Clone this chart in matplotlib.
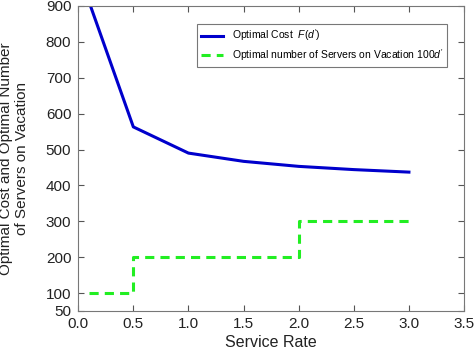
import matplotlib
matplotlib.use("Agg")
import matplotlib.pyplot as plt

# data
service_rate = [0.1, 0.5, 1.0, 1.5, 2.0, 2.5, 3.0]
optimal_cost = [910, 563, 490, 467, 453, 444, 437]
servers_on_vacation = [100, 200, 200, 200, 300, 300, 300]

x_ticks = [0.0, 0.5, 1.0, 1.5, 2.0, 2.5, 3.0, 3.5]
y_ticks = [50, 100, 200, 300, 400, 500, 600, 700, 800, 900]

plt.rcParams['font.family'] = ['Liberation Sans', 'DejaVu Sans']
plt.rcParams['mathtext.fontset'] = 'custom'
plt.rcParams['mathtext.it'] = 'Liberation Sans:italic'
plt.rcParams['mathtext.rm'] = 'Liberation Sans'

fig = plt.figure(figsize=(4.74, 3.51), dpi=100)
ax = fig.add_axes([0.165, 0.114, 0.814, 0.869])

ax.plot(service_rate, optimal_cost, color='#0000cc', lw=2.2,
        label=r"Optimal Cost  $F(d')$")
ax.step(service_rate, servers_on_vacation, where='post', color='#22ee22',
        lw=2.2, linestyle=(0, (3, 2)),
        label=r"Optimal number of Servers on Vacation $100d'$")

ax.set_xlim(0, 3.5)
ax.set_ylim(50, 900)
ax.set_xticks(x_ticks)
ax.set_yticks(y_ticks)
ax.set_xticklabels([f"{v:.1f}" for v in x_ticks])
ax.tick_params(direction='in', top=True, right=True, labelsize=11,
               color='#555555', labelcolor='#222222', length=4)
ax.tick_params(axis='x', pad=4)
ax.tick_params(axis='y', pad=5)

for s in ax.spines.values():
    s.set_color('#777777')

ax.set_xlabel('Service Rate', fontsize=11.5, labelpad=3, color='#222222')
ax.set_ylabel('Optimal Cost and Optimal Number\nof Servers on Vacation',
              fontsize=11, linespacing=1.2, labelpad=12, color='#222222')

leg = ax.legend(loc='upper right', bbox_to_anchor=(0.956, 0.941), fontsize=7.5,
                frameon=True, fancybox=False, edgecolor='#555555',
                handlelength=2.2, borderpad=0.35, labelspacing=0.35,
                borderaxespad=0)
leg.get_frame().set_linewidth(0.8)

fig.savefig('out.png', dpi=100)
